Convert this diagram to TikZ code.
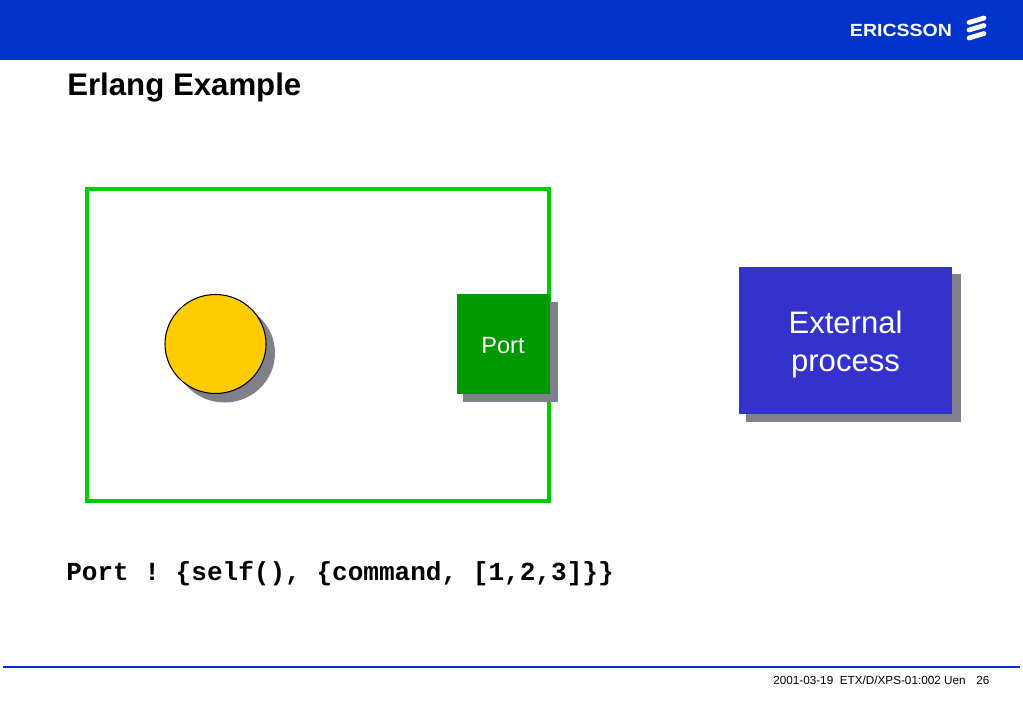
\documentclass[tikz,border=0pt]{standalone}
\usepackage{fontspec}
\setmainfont{Liberation Sans}
\newfontfamily\codefont{Liberation Mono}
\definecolor{banner}{RGB}{0,51,204}
\definecolor{framegreen}{RGB}{0,204,0}
\definecolor{portgreen}{RGB}{0,153,0}
\definecolor{extblue}{RGB}{51,51,204}
\definecolor{shadowgrey}{RGB}{128,128,140}
\definecolor{sun}{RGB}{255,204,0}
\definecolor{footline}{RGB}{0,51,190}
\tikzset{
  x=0.75pt,y=-0.75pt,
  shadowbox/.style={fill=shadowgrey,draw=none},
  label text/.style={text=white,inner sep=0pt,align=center},
  stripe/.style={white,line width=3.6pt,line cap=round}
}
\begin{document}
\frenchspacing
\begin{tikzpicture}
\useasboundingbox (0,0) rectangle (1023,708);
\fill[banner] (0,0) rectangle (1023,60);
\node[inner sep=0pt,text=white,font=\bfseries\fontsize{13.2pt}{15pt}\selectfont,xscale=1.11] (brand) at (901,30) {ERICSSON};
\draw[stripe] (969,22.5) -- (984,18);
\draw[stripe] (969,30) -- (984,25.5);
\draw[stripe] (969,38) -- (984,33.5);
\node[anchor=base west,inner sep=0pt,font=\bfseries\fontsize{23.4pt}{28pt}\selectfont] (title) at (67,95) {Erlang Example};
% process frame
\draw[framegreen,line width=2.3pt] (87,189) rectangle (549,501);
% circle
\path[fill=shadowgrey] (224.5,353) ellipse (50.5 and 49.5);
\draw[black,fill=sun,line width=0.8pt] (215.5,344) ellipse (50.5 and 49.5);
% port
\fill[shadowbox] (463,302) rectangle (558,402);
\fill[portgreen] (457,294) rectangle (550,394);
\node[label text,font=\fontsize{17.6pt}{20pt}\selectfont] (port) at (503,346) {Port};
% external process
\fill[shadowbox] (746,274) rectangle (961,422);
\fill[extblue] (739,267) rectangle (952,413.5);
\node[label text,font=\fontsize{23.3pt}{28.6pt}\selectfont] (ext) at (845.5,344.5) {External\\process};
% code
\node[anchor=base west,inner sep=0pt,font=\codefont\bfseries\fontsize{19.55pt}{22pt}\selectfont] (code) at (66,580) {Port ! \{self(), \{command, [1,2,3]\}\}};
% footer
\draw[footline,line width=2pt] (3,667) -- (1020,667);
\node[anchor=base west,inner sep=0pt,font=\fontsize{8.8pt}{10pt}\selectfont] (date) at (773,684) {2001-03-19\ \ ETX/D/XPS-01:002 Uen};
\node[anchor=base west,inner sep=0pt,font=\fontsize{8.8pt}{10pt}\selectfont] (page) at (976,684) {26};
\end{tikzpicture}
\end{document}
